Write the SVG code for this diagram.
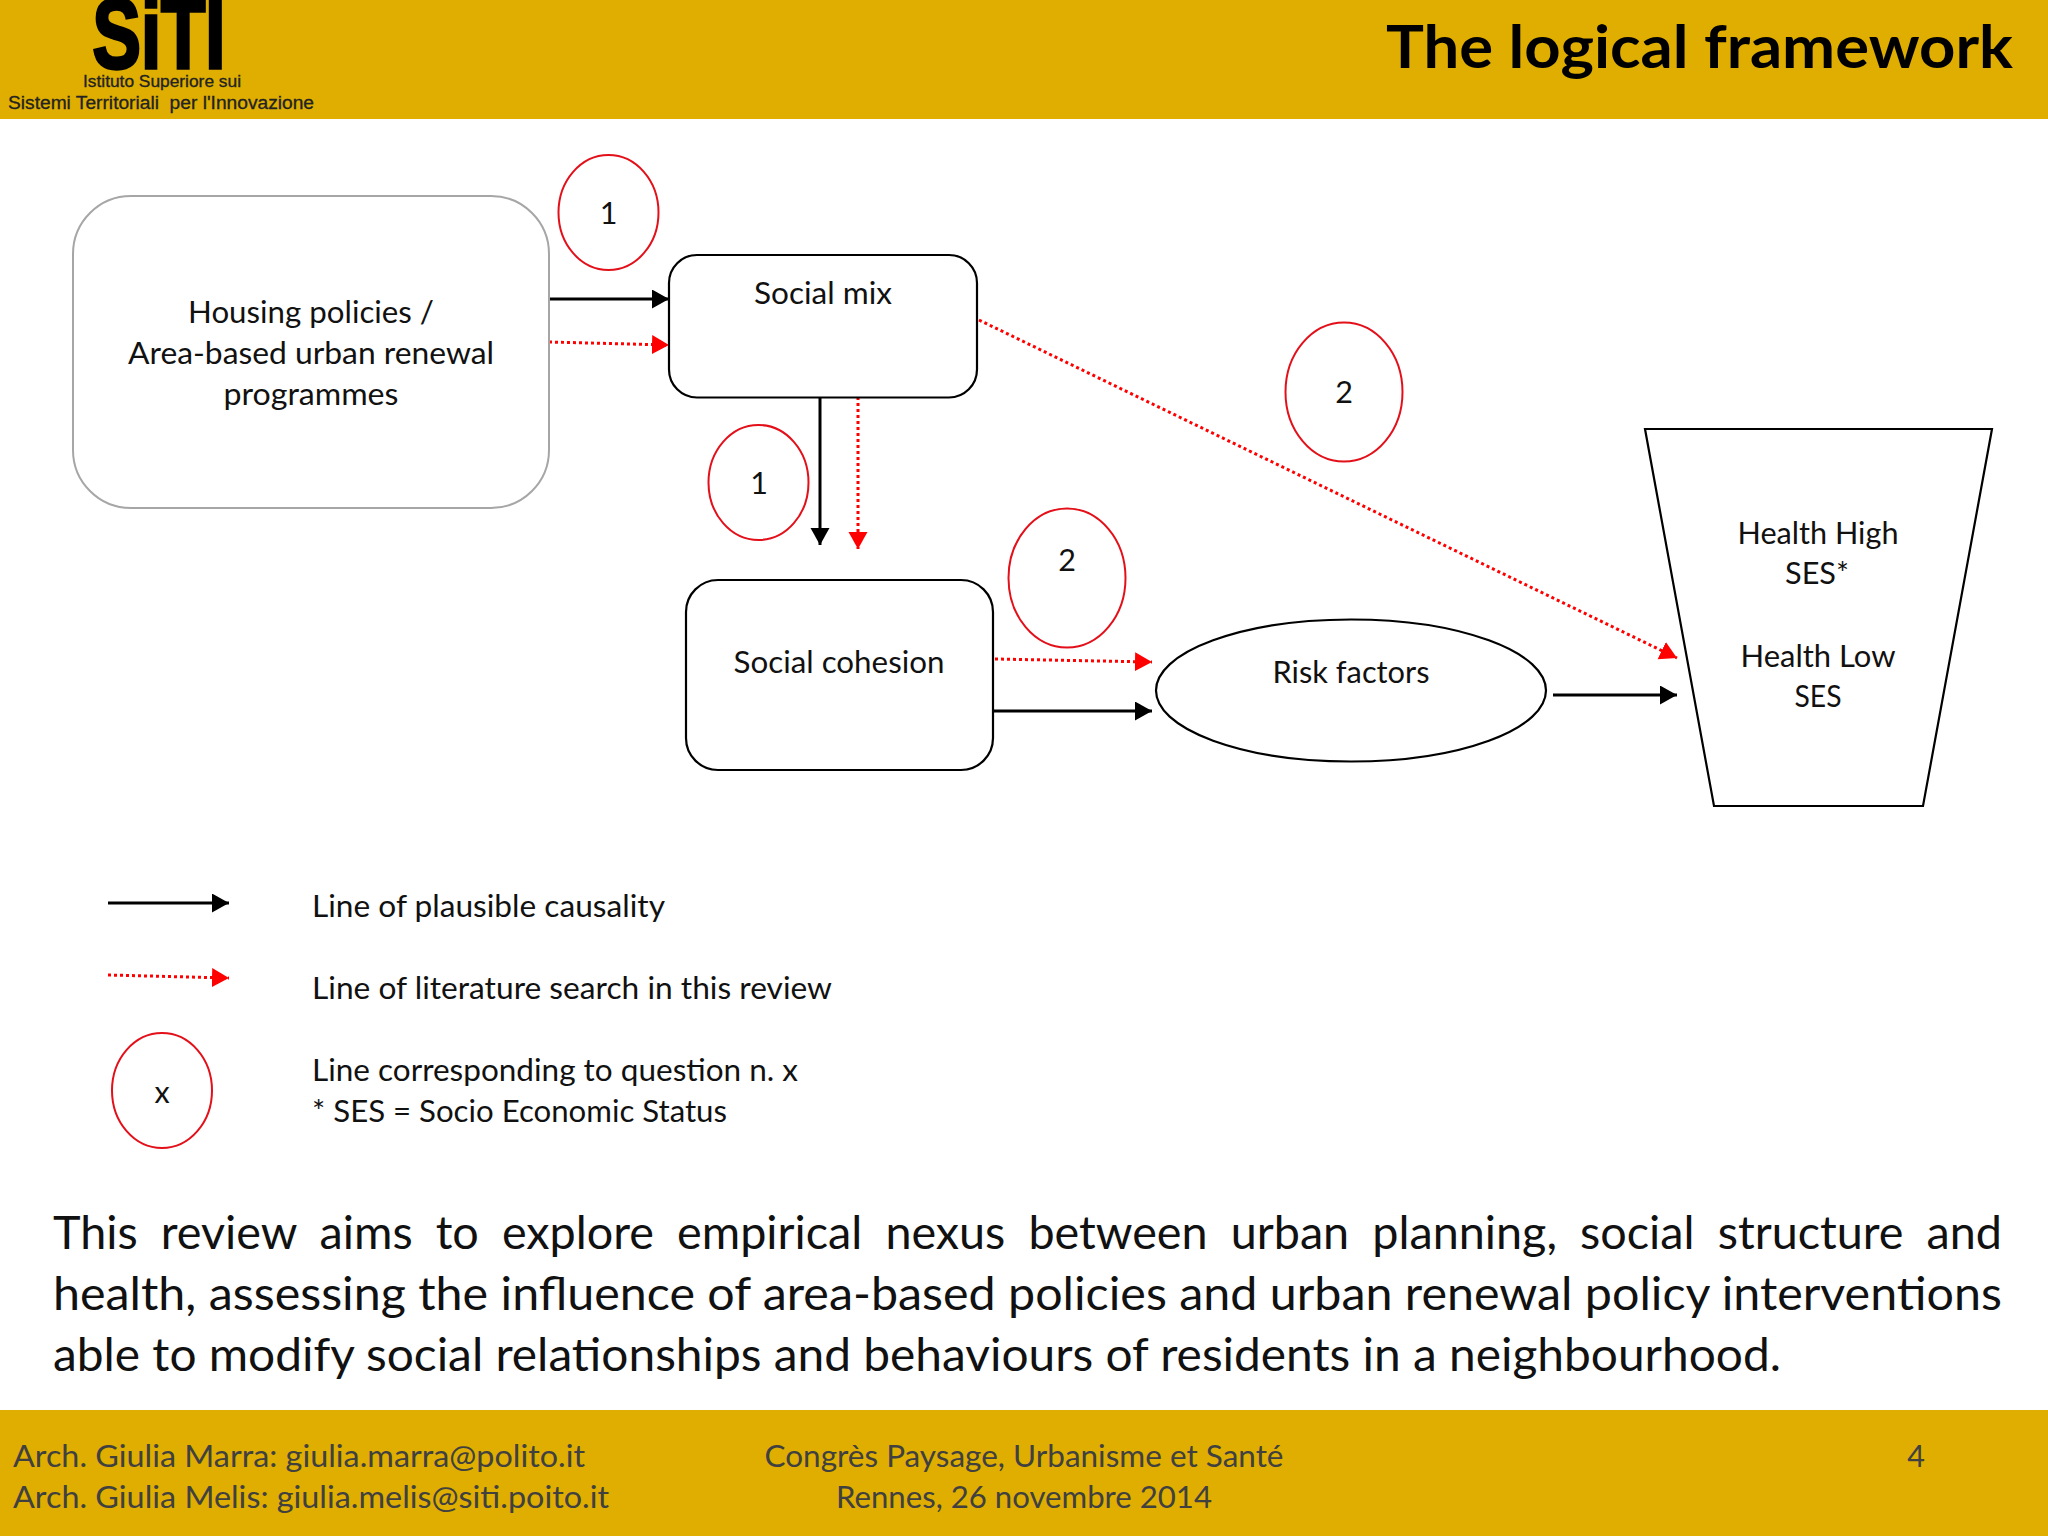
<svg xmlns="http://www.w3.org/2000/svg" width="2048" height="1536" viewBox="0 0 2048 1536">
<style>
text{font-family:Lato,"Liberation Sans",sans-serif;fill:#111;font-size:30.5px;text-anchor:middle}
.l{text-anchor:start}
.box{fill:#fff;stroke:#000;stroke-width:2.2}
.circ{fill:#fff;stroke:#e3101a;stroke-width:2}
.blk{stroke:#000;stroke-width:3;fill:none;marker-end:url(#ab)}
.red{stroke:#f00;stroke-width:3;stroke-dasharray:3 3;fill:none;marker-end:url(#ar)}
.band{fill:#dfae00}
.para{font-size:46px}
.foot{fill:#404040}
</style>
<defs>
<marker id="ab" markerUnits="userSpaceOnUse" markerWidth="20" markerHeight="20" refX="17" refY="9.5" orient="auto"><path d="M0 0L17 9.5L0 19Z" fill="#000"/></marker>
<marker id="ar" markerUnits="userSpaceOnUse" markerWidth="20" markerHeight="20" refX="17" refY="9.5" orient="auto"><path d="M0 0L17 9.5L0 19Z" fill="#f00"/></marker>
</defs>
<rect width="2048" height="1536" fill="#fff"/>
<g id="header">
<rect class="band" width="2048" height="119"/>
<text x="159" y="68" textLength="133" lengthAdjust="spacingAndGlyphs" style="font-family:'Liberation Sans',sans-serif;font-weight:700;font-size:98px;stroke:#000;stroke-width:3.5;fill:#000">SiTI</text>
<text x="162" y="87" textLength="158" lengthAdjust="spacingAndGlyphs" style="font-family:'Liberation Sans',sans-serif;font-size:16px;fill:#222;stroke:#222;stroke-width:.3">Istituto Superiore sui</text>
<text x="161" y="109" textLength="306" lengthAdjust="spacingAndGlyphs" xml:space="preserve" style="font-family:'Liberation Sans',sans-serif;font-size:18px;fill:#222;stroke:#222;stroke-width:.3">Sistemi Territoriali  per l'Innovazione</text>
<text x="2013" y="68" textLength="627" lengthAdjust="spacingAndGlyphs" style="font-weight:700;font-size:60px;text-anchor:end;fill:#000">The logical framework</text>
</g>
<g id="connectors">
<path class="blk" d="M549 299H669"/>
<path class="red" d="M549 342L669 345"/>
<path class="blk" d="M820 397V545"/>
<path class="red" d="M858 397V549"/>
<path class="red" d="M979 320L1677 658"/>
<path class="red" d="M995 659L1152 662"/>
<path class="blk" d="M993 711H1152"/>
<path class="blk" d="M1553 695H1677"/>
</g>
<g id="housing"><rect x="73" y="196" width="476" height="312" rx="58" fill="#fff" stroke="#a6a6a6" stroke-width="2"/>
<text x="311" y="323" textLength="246" lengthAdjust="spacingAndGlyphs">Housing policies /</text>
<text x="311" y="364" textLength="366" lengthAdjust="spacingAndGlyphs">Area-based urban renewal</text>
<text x="311" y="405" textLength="175" lengthAdjust="spacingAndGlyphs">programmes</text></g>
<g id="social-mix"><rect class="box" x="669" y="255" width="308" height="142.500" rx="28"/>
<text x="823" y="304" textLength="138" lengthAdjust="spacingAndGlyphs">Social mix</text></g>
<g id="social-cohesion"><rect class="box" x="686" y="580" width="307" height="190" rx="32"/>
<text x="839" y="673" textLength="211" lengthAdjust="spacingAndGlyphs">Social cohesion</text></g>
<g id="risk-factors"><ellipse class="box" cx="1351" cy="690.500" rx="195" ry="71"/>
<text x="1351" y="683" textLength="157" lengthAdjust="spacingAndGlyphs">Risk factors</text></g>
<g id="health"><path class="box" d="M1645 429H1992L1923 806H1714Z"/>
<text x="1818" y="544" textLength="161" lengthAdjust="spacingAndGlyphs">Health High</text>
<text x="1817" y="584" textLength="64" lengthAdjust="spacingAndGlyphs">SES*</text>
<text x="1818" y="667" textLength="155" lengthAdjust="spacingAndGlyphs">Health Low</text>
<text x="1818" y="707" textLength="47" lengthAdjust="spacingAndGlyphs">SES</text></g>
<g id="q1a"><ellipse class="circ" cx="608.500" cy="212.500" rx="50" ry="57.500"/><text x="608.500" y="224">1</text></g>
<g id="q1b"><ellipse class="circ" cx="758.500" cy="482.500" rx="50" ry="57.500"/><text x="759" y="494">1</text></g>
<g id="q2a"><ellipse class="circ" cx="1344" cy="392" rx="58.500" ry="69.500"/><text x="1344" y="403">2</text></g>
<g id="q2b"><ellipse class="circ" cx="1067" cy="578" rx="58.500" ry="69.500"/><text x="1067" y="571">2</text></g>
<g id="legend">
<path class="blk" d="M108 903H229"/>
<path class="red" d="M108 975L229 978"/>
<ellipse class="circ" cx="162" cy="1090.500" rx="50" ry="57.500"/><text x="162" y="1103">x</text>
<text class="l" x="312" y="917" textLength="353" lengthAdjust="spacingAndGlyphs">Line of plausible causality</text>
<text class="l" x="312" y="999" textLength="520" lengthAdjust="spacingAndGlyphs">Line of literature search in this review</text>
<text class="l" x="312" y="1081" textLength="486" lengthAdjust="spacingAndGlyphs">Line corresponding to question n. x</text>
<text class="l" x="312" y="1122" textLength="415" lengthAdjust="spacingAndGlyphs">* SES = Socio Economic Status</text>
</g>
<g id="paragraph">
<text class="l para" x="53" y="1249" word-spacing="11" textLength="1949" lengthAdjust="spacingAndGlyphs">This review aims to explore empirical nexus between urban planning, social structure and</text>
<text class="l para" x="53" y="1310" textLength="1949" lengthAdjust="spacingAndGlyphs">health, assessing the influence of area-based policies and urban renewal policy interventions</text>
<text class="l para" x="53" y="1371" textLength="1728" lengthAdjust="spacingAndGlyphs">able to modify social relationships and behaviours of residents in a neighbourhood.</text>
</g>
<g id="footer">
<rect class="band" y="1410" width="2048" height="126"/>
<text class="l foot" x="13" y="1467" textLength="572" lengthAdjust="spacingAndGlyphs">Arch. Giulia Marra: giulia.marra@polito.it</text>
<text class="l foot" x="13" y="1508" textLength="596" lengthAdjust="spacingAndGlyphs">Arch. Giulia Melis: giulia.melis@siti.poito.it</text>
<text class="foot" x="1024" y="1467" textLength="519" lengthAdjust="spacingAndGlyphs">Congrès Paysage, Urbanisme et Santé</text>
<text class="foot" x="1024" y="1508" textLength="376" lengthAdjust="spacingAndGlyphs">Rennes, 26 novembre 2014</text>
<text class="foot" x="1916" y="1467">4</text>
</g>
</svg>
